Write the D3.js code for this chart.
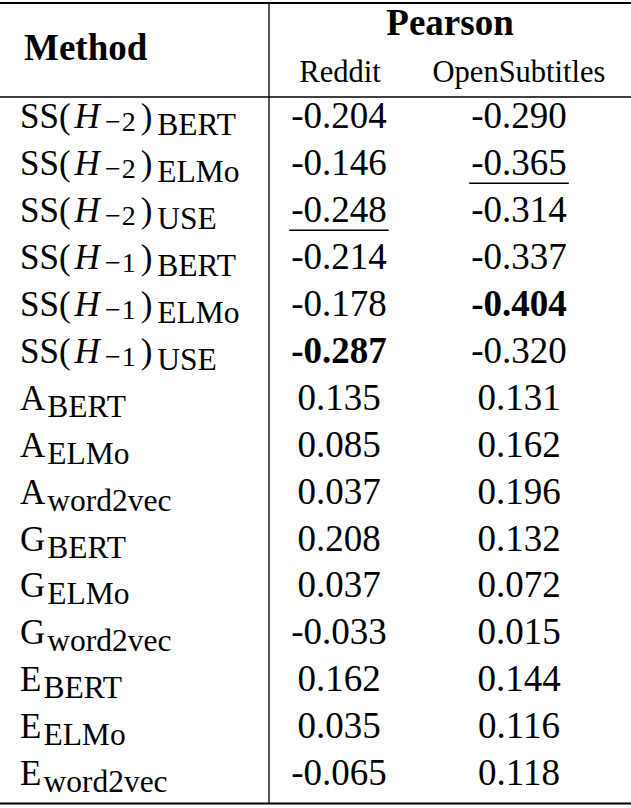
<!DOCTYPE html>
<html>
<head>
<meta charset="utf-8">
<script src="https://cdn.jsdelivr.net/npm/d3@7"></script>
<style>
  body { margin: 0; background: #fff; }
  text { font-family: "Liberation Serif", "Times New Roman", serif; fill: #000; }
</style>
</head>
<body>
<svg id="table" width="631" height="808"></svg>
<script>
// score family, hidden layer (null = none), encoder
var scores   = ["SS", "SS", "SS", "SS", "SS", "SS", "A", "A", "A", "G", "G", "G", "E", "E", "E"];
var layers   = [-2, -2, -2, -1, -1, -1, null, null, null, null, null, null, null, null, null];
var encoders = ["BERT", "ELMo", "USE", "BERT", "ELMo", "USE",
                "BERT", "ELMo", "word2vec", "BERT", "ELMo", "word2vec", "BERT", "ELMo", "word2vec"];

var corpora = ["Reddit", "OpenSubtitles"];
var reddit        = [-0.204, -0.146, -0.248, -0.214, -0.178, -0.287, 0.135, 0.085, 0.037, 0.208, 0.037, -0.033, 0.162, 0.035, -0.065];
var openSubtitles = [-0.290, -0.365, -0.314, -0.337, -0.404, -0.320, 0.131, 0.162, 0.196, 0.132, 0.072, 0.015, 0.144, 0.116, 0.118];

var svg = d3.select("#table"),
    width = 631,
    divX = 269,
    topRule = 3,
    headRule = 97,
    bottomRule = 803.5;

var rows = d3.range(scores.length);

var y = d3.scaleBand()
  .domain(rows)
  .range([93, 796.5]);

function baseline(i) {
  return y(i) + y.bandwidth() / 2 + 12;
}

var x = d3.scalePoint()
  .domain(corpora)
  .range([339, 519]);

var columns = [reddit, openSubtitles];

// best (most negative) in bold, second best underlined
var rank = columns.map(function (vals) {
  var order = d3.sort(rows, function (i) { return vals[i]; });
  return { best: order[0], second: order[1] };
});

// rules
svg.append("line").attr("x1", 0).attr("x2", width).attr("y1", topRule).attr("y2", topRule)
  .attr("stroke", "#000").attr("stroke-width", 2);
svg.append("line").attr("x1", 0).attr("x2", width).attr("y1", headRule).attr("y2", headRule)
  .attr("stroke", "#000").attr("stroke-width", 1.5);
svg.append("line").attr("x1", 0).attr("x2", width).attr("y1", bottomRule).attr("y2", bottomRule)
  .attr("stroke", "#000").attr("stroke-width", 2);
svg.append("line").attr("x1", divX).attr("x2", divX).attr("y1", topRule).attr("y2", bottomRule)
  .attr("stroke", "#000").attr("stroke-width", 1.3);

// header
svg.append("text")
  .attr("x", 24).attr("y", 60)
  .attr("font-size", 37).attr("font-weight", "bold")
  .text("Method");

svg.append("text")
  .attr("x", (divX + width) / 2).attr("y", 35)
  .attr("text-anchor", "middle")
  .attr("font-size", 37).attr("font-weight", "bold")
  .text("Pearson");

svg.selectAll("text.corpus")
  .data(corpora)
  .join("text")
  .attr("class", "corpus")
  .attr("x", function (d) { return x(d) + (d == "OpenSubtitles" ? 0 : 1); })
  .attr("y", 82)
  .attr("text-anchor", "middle")
  .attr("font-size", 30.5)
  .text(function (d) { return d; });

// method labels
var labels = svg.selectAll("text.method")
  .data(rows)
  .join("text")
  .attr("class", "method")
  .attr("x", 20)
  .attr("y", baseline)
  .attr("font-size", 35);

labels.append("tspan").text(function (i) { return scores[i]; });
labels.filter(function (i) { return layers[i] != null; }).each(function (i) {
  var t = d3.select(this);
  t.append("tspan").text("(");
  t.append("tspan").attr("font-style", "italic").attr("dx", 4).text("H");
  t.append("tspan").attr("font-size", 28).attr("dx", 5).attr("dy", 3).text("\u2212");
  t.append("tspan").attr("font-size", 28).attr("dx", 1).text(Math.abs(layers[i]));
  t.append("tspan").attr("dx", 5).attr("dy", -3).text(")");
});
labels.append("tspan")
  .attr("font-size", 31.5)
  .attr("dx", function (i) { return layers[i] != null ? 5 : 2; })
  .attr("dy", 7)
  .text(function (i) { return encoders[i]; });

// values
columns.forEach(function (vals, c) {
  var g = svg.append("g");
  var cells = g.selectAll("text")
    .data(rows)
    .join("text")
    .attr("x", x(corpora[c]))
    .attr("y", baseline)
    .attr("text-anchor", "middle")
    .attr("font-size", 37)
    .attr("font-weight", function (i) { return i == rank[c].best ? "bold" : "normal"; })
    .text(function (i) { return d3.format(".3f")(vals[i]).replace("\u2212", "-"); });

  cells.filter(function (i) { return i == rank[c].second; }).each(function (i) {
    var w = this.getComputedTextLength();
    var yy = baseline(i) + 8;
    g.append("line")
      .attr("x1", x(corpora[c]) - w / 2 - 2).attr("x2", x(corpora[c]) + w / 2 + 2)
      .attr("y1", yy).attr("y2", yy)
      .attr("stroke", "#000").attr("stroke-width", 1.5);
  });
});
</script>
</body>
</html>
